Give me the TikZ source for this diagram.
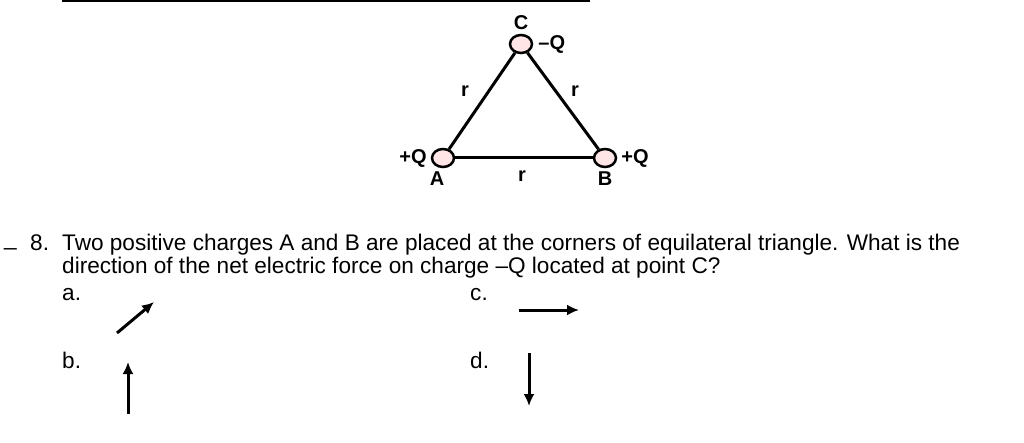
\documentclass[tikz,border=0pt]{standalone}
\usepackage{fontspec}
\setmainfont{Liberation Sans}
\usetikzlibrary{positioning, arrows.meta, shapes.geometric}

\begin{document}
\begin{tikzpicture}[x=1pt, y=-1pt,
    charge/.style={draw, ellipse, line width=2.5pt, fill=pink!40, minimum width=22pt, minimum height=18pt, inner sep=0pt},
    lbl/.style={font=\fontsize{20}{20}\selectfont\bfseries, inner sep=0pt},
    qtext/.style={font=\fontsize{22.6}{22.6}\selectfont, anchor=base west, inner sep=0pt},
    answer/.style={line width=3pt, -{Latex[length=12pt, width=11pt]}}]
    \useasboundingbox (0,0) rectangle (1024,443);

    % top rule
    \coordinate (ruleL) at (62,1);
    \coordinate (ruleR) at (590,1);
    \draw[line width=2pt] (ruleL) -- (ruleR);

    % Charges
    \node[charge] (C) at (521,44) {};
    \node[charge] (A) at (443,158) {};
    \node[charge] (B) at (605,158) {};

    % Triangle sides
    \draw[line width=3pt] (A) -- node[lbl, xshift=-17pt, yshift=10pt] {r} (C);
    \draw[line width=3pt] (C) -- node[lbl, xshift=12pt, yshift=10pt] {r} (B);
    \draw[line width=3pt] (A) -- node[lbl, xshift=-2pt, yshift=-18pt] {r} (B);

    % Charge labels
    \node[lbl, above=4pt of C] {C};
    \node[lbl, right=5pt of C] {–Q};
    \node[lbl, left=4pt of A] {+Q};
    \node[lbl, below=3pt of A, xshift=-6pt] {A};
    \node[lbl, right=4pt of B] {+Q};
    \node[lbl, below=3pt of B] {B};

    % Question
    \node[qtext] (blank) at (4,246) {\_};
    \node[qtext] (num) at (30,251) {8.};
    \node[qtext] (line1) at (62,251) {Two positive charges A and B are placed at the corners of equilateral triangle. What is the};
    \node[qtext] (line2) at (62,273) {direction of the net electric force on charge –Q located at point C?};

    % Choices
    \node[qtext] (optA) at (62,300) {a.};
    \node[qtext] (optB) at (62,368) {b.};
    \node[qtext] (optC) at (470,300) {c.};
    \node[qtext] (optD) at (470,368) {d.};

    % Answer arrows
    \coordinate (aS) at (117,333); \coordinate (aE) at (154,302);
    \coordinate (bS) at (128,414); \coordinate (bE) at (128,362);
    \coordinate (cS) at (519,310); \coordinate (cE) at (579,310);
    \coordinate (dS) at (529,353); \coordinate (dE) at (529,406);
    \draw[answer] (aS) -- (aE);
    \draw[answer] (bS) -- (bE);
    \draw[answer] (cS) -- (cE);
    \draw[answer] (dS) -- (dE);
\end{tikzpicture}
\end{document}
